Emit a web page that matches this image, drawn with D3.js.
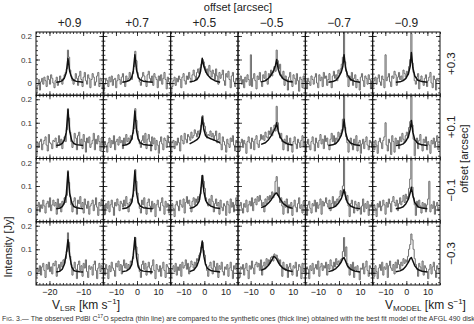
<!DOCTYPE html>
<html><head><meta charset="utf-8">
<script src="https://cdn.jsdelivr.net/npm/d3@7"></script>
<style>body{margin:0;background:#fff}svg{display:block}text{font-family:"Liberation Sans",Arial,sans-serif}</style>
</head><body><svg id="c" width="474" height="324"></svg>
<script>
// ---------- DATA ----------
const columnLabels = ["+0.9","+0.7","+0.5","\u22120.5","\u22120.7","\u22120.9"];
const rowLabels = ["+0.3","+0.1","\u22120.1","\u22120.3"];
const yTicks = [0, 0.1, 0.2];
const yTickLabels = ["0","0.1","0.2"];
const xTicksLSR = [-20, -10];
const xTickLabelsLSR = ["\u221220","\u221210"];
const xTicksMOD = [-10, 0, 10];
const xTickLabelsMOD = ["\u221210","0","10"];
// observed spectra (mJy), 60 equally spaced channels across each panel
const specR1 = [
 [-40,-10,15,-30,5,20,-5,25,10,-15, 30,15,-5,35,20,0,-20,10,25,-10, 5,30,15,-5,20,35,45,60,140,110, 55,30,10,-5,15,40,20,-10,30,50, 15,-15,25,45,10,-5,35,20,-20,15, 40,25,-10,5,30,45,-15,20,10,-25],
 [-35,-5,20,10,-15,25,5,30,-10,15, 20,-20,10,35,15,-5,25,40,5,-15, 30,10,20,45,25,15,40,70,135,95, 45,20,5,-10,25,45,30,10,-15,35, 50,20,5,30,-10,40,25,15,-20,30, 10,35,-5,20,45,15,-25,25,5,-10],
 [-40,-15,10,25,-10,20,5,30,15,-20, 25,40,10,-5,30,15,45,20,5,35, 55,30,15,45,60,40,65,80,100,90, 70,45,60,35,75,50,25,55,40,15, 60,30,-5,45,20,35,55,10,-10,40, 25,50,15,-20,30,45,5,-15,20,10],
 [-25,10,30,-5,15,-20,25,5,35,15, -10,120,-15,20,40,10,-25,30,15,45, 5,-15,35,20,50,10,-5,40,25,55, 30,45,70,50,140,95,60,80,35,20, 50,-10,30,15,-30,25,45,10,-15,35, 20,-5,40,10,-35,25,15,-20,30,5],
 [10,-25,20,5,-10,30,15,-5,25,40, 0,-20,35,10,25,-15,45,20,30,-10, 15,40,5,-20,30,50,20,35,10,55, 40,60,80,110,230,90,50,25,-15,30, 10,45,-10,20,35,-20,15,5,-30,25, 40,10,-15,30,20,-5,35,15,-25,10],
 [-15,10,25,-5,20,35,5,-10,30,15, -20,120,10,25,40,5,-15,30,20,50, 35,-10,25,45,15,30,10,55,40,25, 50,35,70,100,210,85,45,10,-5,25, 40,-25,15,30,5,-10,20,35,-15,10, 25,45,0,-20,30,15,-30,20,10,5]
];
const specR2 = [
 [-35,15,-5,20,30,-15,10,25,40,5, -20,50,15,10,-10,25,20,35,-5,15, 45,10,30,-10,25,40,20,70,160,120, 60,20,-5,15,55,35,-15,45,60,10, 30,-10,50,20,-25,35,15,40,-5,10, 25,55,-15,30,10,45,20,-20,35,5],
 [-10,20,5,-25,15,35,-5,25,10,45, -15,20,30,5,40,15,25,-10,35,10, 50,20,35,15,45,30,55,75,160,110, 65,30,10,-5,25,45,15,55,-10,30, 50,20,-20,40,10,35,-15,25,5,-30, 20,40,10,-15,35,25,-5,45,15,0],
 [-30,15,25,-10,20,5,35,15,-20,45, 25,10,55,30,15,50,40,25,60,35, 45,70,55,40,65,50,70,90,130,100, 85,60,35,50,45,65,40,55,25,45, 65,15,30,55,10,-15,40,20,5,-25, 30,10,-5,35,20,45,5,-20,25,15],
 [5,-20,15,30,-5,25,10,-30,20,40, 15,-10,35,20,-15,30,45,10,-5,25, 50,30,45,25,60,40,35,65,50,80, 45,70,90,65,170,100,55,35,55,20, -15,30,10,45,-20,15,35,5,-25,20, 40,10,-10,30,15,-5,25,45,0,20],
 [-25,10,30,5,-15,20,40,10,-20,35, 15,-5,25,50,10,30,-10,45,20,35, 5,-15,30,55,20,45,10,35,25,60, 40,55,70,115,230,80,40,15,-25,20, 35,5,-15,30,10,45,-20,15,25,-30, 10,30,-10,20,40,5,-15,25,15,-5],
 [10,-15,25,5,-30,20,35,15,-10,25, 40,100,5,-20,30,15,-35,45,20,-25, 35,10,25,-10,40,20,55,30,15,45, 60,35,80,105,220,90,30,-40,15,35, -10,25,50,5,-20,30,15,40,-15,20, 5,-30,25,10,35,-5,20,45,-15,10]
];
const specR3 = [
 [-25,10,30,-10,20,5,40,15,-15,25, 35,10,50,-5,20,40,15,30,-20,45, 10,25,-10,35,20,50,30,60,165,115, 55,20,-10,35,50,15,-20,40,25,55, 10,30,-15,45,20,5,35,-20,15,25, 40,-5,20,50,10,-25,30,15,45,0],
 [15,-20,25,5,35,-10,20,40,10,-25, 30,15,45,20,-5,35,25,10,40,15, 55,25,-10,30,45,35,55,80,170,120, 70,25,5,-15,40,20,50,10,-20,30, 45,15,-10,35,5,25,-30,20,40,10, -5,30,50,15,-20,35,10,25,-15,20],
 [-10,25,5,-30,20,35,15,-5,40,20, 10,45,-15,30,55,25,40,15,-10,35, 50,20,45,30,55,40,65,95,145,120, 90,50,30,15,45,20,60,35,-10,25, 45,15,30,-20,40,10,-5,25,15,-25, 35,20,-15,45,10,30,-10,20,50,5],
 [-20,15,30,5,-15,25,10,40,-10,20, 35,15,50,-5,30,45,20,55,35,60, 40,15,30,-10,45,25,55,40,60,45, 75,50,70,120,140,60,95,30,50,15, -20,35,10,45,-15,20,5,30,-25,15, 40,10,-10,25,50,5,20,-15,35,10],
 [10,-25,20,35,5,-15,25,15,40,-10, 30,5,20,45,-20,35,15,30,50,25, 10,40,-5,25,55,15,35,20,45,30, 55,80,60,100,230,75,40,60,15,-30, 25,40,10,-15,35,20,-5,30,10,-20, 15,45,-10,25,5,35,-25,20,10,30],
 [-15,20,5,-30,25,10,35,-5,15,40, 20,-20,30,10,45,25,-10,35,55,30, 15,40,-5,25,50,20,35,60,30,65, 45,55,90,130,225,95,50,20,-25,35, 10,40,15,-15,30,5,25,-10,20,45, 120,-10,20,5,35,-20,15,30,-5,10]
];
const specR4 = [
 [-15,20,5,30,-10,25,40,10,-20,35, 15,45,5,25,-5,40,30,50,-15,20, 35,10,45,25,55,40,60,90,170,130, 70,35,-10,20,45,15,-25,35,50,10, 30,-15,40,20,55,5,-20,30,15,25, -10,35,50,10,-25,20,40,5,30,15],
 [20,-10,35,15,-25,30,5,45,20,10, -15,40,25,50,10,35,-5,30,55,20, 40,15,35,20,50,45,60,100,150,110, 80,30,5,-20,35,50,15,40,-10,25, 45,20,-5,30,55,10,-25,35,15,5, 30,-15,20,45,10,-20,35,25,0,15],
 [-20,15,30,5,40,-10,25,10,35,-15, 45,20,30,55,15,40,-5,25,50,35, 20,45,30,60,50,75,85,110,130,95, 75,35,10,-15,30,45,20,-5,50,25, 10,40,-20,30,15,45,5,-10,25,15, 35,-15,20,45,10,-25,30,15,40,5],
 [5,-20,25,15,35,-10,20,40,10,-25, 30,15,50,20,-5,35,45,25,40,10, 55,-10,30,45,20,60,35,55,40,65, 70,50,80,65,75,60,40,55,30,-15, 45,20,10,35,-20,25,40,15,-10,30, 20,45,-15,10,35,25,-25,40,5,15],
 [-10,25,15,-25,30,10,40,-5,20,35, 15,50,-15,25,40,10,30,20,45,-10, 35,15,55,30,10,45,25,60,35,50, 40,55,60,90,150,70,110,40,20,-10, 35,15,45,-20,25,10,30,5,-30,20, 15,40,-5,25,50,10,-15,30,20,-10],
 [15,-15,30,5,-25,20,35,10,45,-10, 25,15,40,-20,30,50,20,10,35,-5, 45,20,55,35,15,45,30,60,40,55, 45,70,100,120,165,140,100,60,35,15, -15,40,25,10,50,-10,30,20,5,-25, 15,35,-5,25,45,10,-20,30,15,5]
];
// model velocity grids (km/s)
const modelVLSR = [-18,-17,-16.2,-15.6,-15,-14.5,-14,-13.4,-12.8,-12,-11,-10];
const modelVBlue = [-7,-5,-3.5,-2.5,-1.8,-1,-0.2,0.6,1.5,3,5,7.5];
const modelVRed = [-5,-3,-1.5,-0.2,1,1.8,2.4,3.1,4,5.5,7.5,10];
// synthetic (model) spectra (mJy)
const modelR1 = [
 [3,5,10,20,45,105,50,22,12,7,5,3],
 [3,6,12,25,50,120,55,25,14,8,5,3],
 [4,8,15,28,50,105,70,50,35,20,10,3],
 [5,10,20,35,55,75,100,60,35,18,8,4],
 [3,6,12,25,45,70,120,65,35,15,7,3],
 [3,5,10,20,40,70,130,65,30,12,6,3]
];
const modelR2 = [
 [3,5,12,25,60,155,65,25,12,7,5,3],
 [3,6,14,30,65,150,65,30,15,8,5,3],
 [10,20,28,38,60,125,70,45,38,32,25,15],
 [8,15,28,45,65,80,100,65,40,20,10,5],
 [3,6,12,25,45,70,115,60,30,14,6,3],
 [3,5,10,22,42,70,110,60,28,12,6,3]
];
const modelR3 = [
 [3,5,12,28,65,160,70,28,13,8,5,3],
 [3,6,15,30,70,165,70,30,15,8,5,3],
 [5,10,20,35,70,145,75,40,25,15,8,4],
 [8,15,28,42,58,68,70,60,45,25,12,5],
 [4,8,15,28,45,65,85,55,30,15,7,3],
 [3,6,12,25,45,70,95,60,30,12,6,3]
];
const modelR4 = [
 [3,6,15,35,80,140,75,25,10,6,4,3],
 [4,8,18,35,75,150,65,25,12,7,5,3],
 [5,12,30,55,85,135,70,35,18,10,6,3],
 [10,18,32,50,70,65,58,45,32,18,10,5],
 [5,10,18,30,45,60,65,50,30,15,7,3],
 [4,8,15,28,45,60,65,50,30,14,6,3]
];
const spectra = [specR1, specR2, specR3, specR4];
const models = [modelR1, modelR2, modelR3, modelR4];

// ---------- LAYOUT ----------
const L = 36, R = 440, T = 32, B = 285;
const nC = 6, nR = 4;
const pw = (R - L) / nC, ph = (B - T) / nR;
const yDom = [-0.052, 0.217];
const xDomLSR = [-24, -4], xDomMOD = [-16, 16];

const svg = d3.select("#c");
const defs = svg.append("defs");

for (let r = 0; r < nR; r++) {
  for (let c = 0; c < nC; c++) {
    const x0 = L + c * pw, y0 = T + r * ph;
    const lsr = c === 0;
    const dom = lsr ? xDomLSR : xDomMOD;
    const xs = d3.scaleLinear().domain(dom).range([x0, x0 + pw]);
    const ys = d3.scaleLinear().domain(yDom).range([y0 + ph, y0]);
    const id = `cl${r}${c}`;
    defs.append("clipPath").attr("id", id).append("rect")
      .attr("x", x0).attr("y", y0).attr("width", pw).attr("height", ph);
    const g = svg.append("g");
    const pg = g.append("g").attr("clip-path", `url(#${id})`);
    const spec = spectra[r][c];
    const dv = (dom[1] - dom[0]) / spec.length;
    const chanV = spec.map((_, i) => dom[0] + (i + 0.5) * dv);
    pg.append("path")
      .attr("d", d3.line().x((d, i) => xs(chanV[i])).y(d => ys(d / 1000)).curve(d3.curveStep)(spec))
      .attr("fill", "none").attr("stroke", "#6e6e6e").attr("stroke-width", 1);
    const mv = lsr ? modelVLSR : (c < 3 ? modelVBlue : modelVRed);
    const mod = models[r][c];
    pg.append("path")
      .attr("d", d3.line().x((d, i) => xs(mv[i])).y(d => ys(d / 1000))(mod))
      .attr("fill", "none").attr("stroke", "#111").attr("stroke-width", 1.5)
      .attr("stroke-linejoin", "round");

    // ticks on all four sides, inward
    const xMaj = lsr ? xTicksLSR : xTicksMOD;
    const xMin = lsr ? d3.range(-24, -3, 1) : d3.range(-16, 17, 2);
    const yMin = d3.range(-0.04, 0.215, 0.02);
    const addAxis = (axis, tr) => {
      const a = g.append("g").attr("transform", tr).call(axis);
      a.select(".domain").remove();
      a.selectAll("line").attr("stroke", "#111").attr("stroke-width", 0.8);
    };
    addAxis(d3.axisBottom(xs).tickValues(xMin).tickSize(-2).tickFormat(""), `translate(0,${y0 + ph})`);
    addAxis(d3.axisBottom(xs).tickValues(xMaj).tickSize(-4).tickFormat(""), `translate(0,${y0 + ph})`);
    addAxis(d3.axisTop(xs).tickValues(xMin).tickSize(-2).tickFormat(""), `translate(0,${y0})`);
    addAxis(d3.axisTop(xs).tickValues(xMaj).tickSize(-4).tickFormat(""), `translate(0,${y0})`);
    addAxis(d3.axisLeft(ys).tickValues(yMin).tickSize(-2).tickFormat(""), `translate(${x0},0)`);
    addAxis(d3.axisLeft(ys).tickValues(yTicks).tickSize(-4).tickFormat(""), `translate(${x0},0)`);
    addAxis(d3.axisRight(ys).tickValues(yMin).tickSize(-2).tickFormat(""), `translate(${x0 + pw},0)`);
    addAxis(d3.axisRight(ys).tickValues(yTicks).tickSize(-4).tickFormat(""), `translate(${x0 + pw},0)`);

    g.append("rect").attr("x", x0).attr("y", y0).attr("width", pw).attr("height", ph)
      .attr("fill", "none").attr("stroke", "#111").attr("stroke-width", 1);

    if (c === 0) {
      const a = g.append("g").attr("transform", `translate(${x0},0)`)
        .call(d3.axisLeft(ys).tickValues(yTicks).tickSize(0).tickPadding(4)
          .tickFormat((d, i) => yTickLabels[i]));
      a.select(".domain").remove();
      a.selectAll("text").attr("font-size", 8).attr("fill", "#333")
        .attr("font-family", "Liberation Sans, Arial, sans-serif");
    }
    if (r === nR - 1) {
      const labs = lsr ? xTickLabelsLSR : xTickLabelsMOD;
      const a = g.append("g").attr("transform", `translate(0,${y0 + ph})`)
        .call(d3.axisBottom(xs).tickValues(xMaj).tickSize(0).tickPadding(4)
          .tickFormat((d, i) => labs[i]));
      a.select(".domain").remove();
      a.selectAll("text").attr("font-size", 9).attr("fill", "#222")
        .attr("font-family", "Liberation Sans, Arial, sans-serif");
    }
    if (r === 0) {
      svg.append("text").attr("x", x0 + pw / 2).attr("y", 26.5).attr("text-anchor", "middle")
        .attr("font-size", 12).attr("fill", "#222").text(columnLabels[c]);
    }
  }
  svg.append("text").attr("transform", `translate(455,${T + r * ph + ph / 2}) rotate(-90)`)
    .attr("text-anchor", "middle").attr("font-size", 11.5).attr("fill", "#222").text(rowLabels[r]);
}

// titles
svg.append("text").attr("x", 238).attr("y", 11).attr("text-anchor", "middle")
  .attr("font-size", 11).attr("fill", "#222").text("offset [arcsec]");
svg.append("text").attr("transform", `translate(468,${(T + B) / 2}) rotate(-90)`)
  .attr("text-anchor", "middle").attr("font-size", 11).attr("fill", "#222").text("offset [arcsec]");
svg.append("text").attr("transform", `translate(12,247) rotate(-90)`)
  .attr("text-anchor", "middle").attr("font-size", 11).attr("fill", "#222").text("Intensity [Jy]");

function vlabel(x, sub) {
  const t = svg.append("text").attr("x", x).attr("y", 309).attr("font-size", 12).attr("fill", "#222");
  t.append("tspan").text("V");
  t.append("tspan").attr("font-size", 8).attr("dy", 2).text(sub);
  t.append("tspan").attr("dy", -2).text(" [km  s");
  t.append("tspan").attr("font-size", 8).attr("dy", -5).text("\u22121");
  t.append("tspan").attr("dy", 5).text("]");
}
vlabel(52, "LSR");
vlabel(385, "MODEL");

// caption
const cap = svg.append("text").attr("x", 2).attr("y", 321).attr("font-size", 7)
  .attr("font-family", "Liberation Serif, Times New Roman, serif").attr("fill", "#333");
cap.append("tspan").text("F");
cap.append("tspan").attr("font-size", 5.5).text("IG");
cap.append("tspan").text(". 3.\u2014 The observed PdBI C");
cap.append("tspan").attr("font-size", 5).attr("dy", -3).text("17");
cap.append("tspan").attr("dy", 3).text("O spectra (thin line) are compared to the synthetic ones (thick line) obtained with the best fit model of the AFGL 490 disk");
</script></body></html>
